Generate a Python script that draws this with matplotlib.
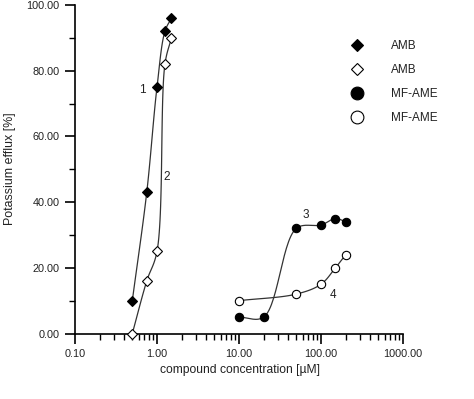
import numpy as np
import matplotlib
matplotlib.use("Agg")
import matplotlib.pyplot as plt
from matplotlib.lines import Line2D
from matplotlib.ticker import FixedLocator, FixedFormatter, NullFormatter

plt.rcParams['font.family'] = ['Liberation Sans', 'DejaVu Sans']

# ---- data ----
amb1_x = [0.5, 0.75, 1.0, 1.25, 1.5]
amb1_y = [10, 43, 75, 92, 96]
amb2_x = [0.5, 0.75, 1.0, 1.25, 1.5]
amb2_y = [0, 16, 25, 82, 90]
mf3_x = [10, 20, 50, 100, 150, 200]
mf3_y = [5, 5, 32, 33, 35, 34]
mf4_x = [10, 50, 100, 150, 200]
mf4_y = [10, 12, 15, 20, 24]
legend_labels = ["AMB", "AMB", "MF-AME", "MF-AME"]
curve_labels = ["1", "2", "3", "4"]
xticks = [0.1, 1, 10, 100, 1000]
xticklabels = ["0.10", "1.00", "10.00", "100.00", "1000.00"]
yticks = [0, 20, 40, 60, 80, 100]
yticklabels = ["0.00", "20.00", "40.00", "60.00", "80.00", "100.00"]

W, H = 474, 399
fig = plt.figure(figsize=(W / 100, H / 100), dpi=100)
ax = fig.add_axes([75 / W, 1 - 333.5 / H, 328 / W, 328.5 / H])
ax.set_xscale('log')
ax.set_xlim(0.1, 1000)
ax.set_ylim(0, 100)

for s in ['top', 'right']:
    ax.spines[s].set_visible(False)
for s in ['left', 'bottom']:
    ax.spines[s].set_linewidth(1.2)

ax.xaxis.set_major_locator(FixedLocator(xticks))
ax.xaxis.set_major_formatter(FixedFormatter(xticklabels))
minors = [m * d for d in [0.1, 1, 10, 100] for m in range(2, 10)]
ax.xaxis.set_minor_locator(FixedLocator(minors))
ax.xaxis.set_minor_formatter(NullFormatter())
ax.yaxis.set_major_locator(FixedLocator(yticks))
ax.yaxis.set_major_formatter(FixedFormatter(yticklabels))
ax.yaxis.set_minor_locator(FixedLocator([10, 30, 50, 70, 90]))
ax.tick_params(which='major', direction='out', length=7, width=1.2,
               labelsize=7.8, pad=4, labelcolor='#222222')
ax.tick_params(which='minor', direction='out', length=4, width=1.0)


def smooth(xs, ys, n=30):
    """Centripetal Catmull-Rom through the points, in display space."""
    pts = ax.transData.transform(np.column_stack([xs, ys]))
    P = np.vstack([2 * pts[0] - pts[1], pts, 2 * pts[-1] - pts[-2]])
    out = []
    for i in range(1, len(P) - 2):
        p0, p1, p2, p3 = P[i - 1], P[i], P[i + 1], P[i + 2]
        t0 = 0.0
        t1 = t0 + np.linalg.norm(p1 - p0) ** 0.5
        t2 = t1 + np.linalg.norm(p2 - p1) ** 0.5
        t3 = t2 + np.linalg.norm(p3 - p2) ** 0.5
        t = np.linspace(t1, t2, n)[:, None]
        A1 = (t1 - t) / (t1 - t0) * p0 + (t - t0) / (t1 - t0) * p1
        A2 = (t2 - t) / (t2 - t1) * p1 + (t - t1) / (t2 - t1) * p2
        A3 = (t3 - t) / (t3 - t2) * p2 + (t - t2) / (t3 - t2) * p3
        B1 = (t2 - t) / (t2 - t0) * A1 + (t - t0) / (t2 - t0) * A2
        B2 = (t3 - t) / (t3 - t1) * A2 + (t - t1) / (t3 - t1) * A3
        C = (t2 - t) / (t2 - t1) * B1 + (t - t1) / (t2 - t1) * B2
        out.append(C)
    out = np.vstack(out)
    d = ax.transData.inverted().transform(out)
    return d[:, 0], d[:, 1]


lc = '#333333'
series = [
    (amb1_x, amb1_y, 'D', 'black', 5.2),
    (amb2_x, amb2_y, 'D', 'white', 5.2),
    (mf3_x, mf3_y, 'o', 'black', 6.0),
    (mf4_x, mf4_y, 'o', 'white', 6.0),
]
for xs, ys, mk, fc, ms in series:
    sx, sy = smooth(xs, ys)
    ax.plot(sx, sy, color=lc, lw=0.9, clip_on=False, zorder=2)
    ax.plot(xs, ys, linestyle='none', marker=mk, markersize=ms,
            markerfacecolor=fc, markeredgecolor='black', markeredgewidth=0.8,
            clip_on=False, zorder=3)

label_pos = [(0.67, 74), (1.31, 47.7), (66, 36), (142, 11.7)]
for txt, (lx, ly) in zip(curve_labels, label_pos):
    ax.text(lx, ly, txt, fontsize=8.5, ha='center', va='center', color='#222222')

handles = [
    Line2D([], [], linestyle='none', marker='D', markersize=6.6,
           markerfacecolor='black', markeredgecolor='black', markeredgewidth=0.8),
    Line2D([], [], linestyle='none', marker='D', markersize=6.6,
           markerfacecolor='white', markeredgecolor='black', markeredgewidth=0.8),
    Line2D([], [], linestyle='none', marker='o', markersize=9.2,
           markerfacecolor='black', markeredgecolor='black', markeredgewidth=0.8),
    Line2D([], [], linestyle='none', marker='o', markersize=9.2,
           markerfacecolor='white', markeredgecolor='black', markeredgewidth=0.8),
]
ax.legend(handles, legend_labels, loc='upper left', frameon=False,
          bbox_to_anchor=(351 / W, 1 - 40 / H), bbox_transform=fig.transFigure,
          fontsize=8.5, handlelength=1.0, handletextpad=2.4, labelspacing=1.03,
          borderpad=0, borderaxespad=0, labelcolor='#222222')

fig.text(239.5 / W, 1 - 370 / H, "compound concentration [µM]", fontsize=8.7,
         ha='center', va='center', color='#222222')
fig.text(10 / W, 1 - 169 / H, "Potassium efflux [%]", fontsize=8.9,
         ha='center', va='center', rotation=90, color='#222222')

fig.savefig("out.png", dpi=100)
